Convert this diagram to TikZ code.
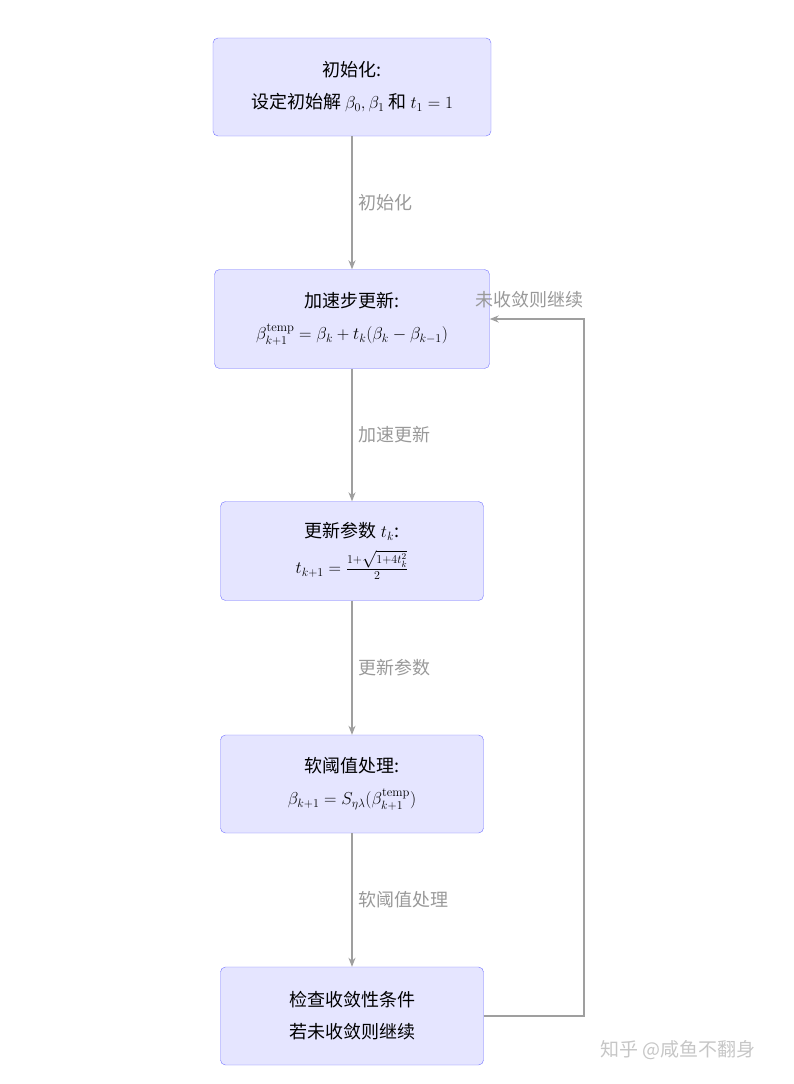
\documentclass[tikz,border=0pt]{standalone}
\usepackage{amsmath}
\usepackage{fontspec}
\newfontfamily\cjk{Noto Sans CJK SC}
\usetikzlibrary{arrows.meta}
\begin{document}
\begin{tikzpicture}[x=1pt,y=-1pt,
  box/.style={draw=blue!55,fill=blue!10,rounded corners=5pt,align=center,font=\fontsize{18}{32}\selectfont\cjk},
  conn/.style={draw=gray!75,line width=1.3pt,-{Stealth[length=9pt,width=7pt]}},
  lab/.style={text=gray!80,font=\fontsize{18}{20}\selectfont\cjk,anchor=west}]
\useasboundingbox (0,0) rectangle (793,1084);
\node[box,minimum width=278,minimum height=98] (b1) at (352,87) {初始化:\\设定初始解 $\beta_0,\beta_1$ 和 $t_1=1$};
\node[box,minimum width=275,minimum height=99] (b2) at (352,319) {加速步更新:\\$\beta_{k+1}^{\mathrm{temp}}=\beta_k+t_k(\beta_k-\beta_{k-1})$};
\node[box,minimum width=263,minimum height=99] (b3) at (352,551) {更新参数 $t_k$:\\[4pt]$t_{k+1}=\frac{1+\sqrt{1+4t_k^2}}{2}$};
\node[box,minimum width=263,minimum height=98] (b4) at (352,784) {软阈值处理:\\$\beta_{k+1}=S_{\eta\lambda}(\beta_{k+1}^{\mathrm{temp}})$};
\node[box,minimum width=263,minimum height=98] (b5) at (352,1016) {检查收敛性条件\\若未收敛则继续};
\draw[conn] (b1) -- node[lab,pos=0.5,xshift=3pt] {初始化} (b2);
\draw[conn] (b2) -- node[lab,pos=0.5,xshift=3pt] {加速更新} (b3);
\draw[conn] (b3) -- node[lab,pos=0.5,xshift=3pt] {更新参数} (b4);
\draw[conn] (b4) -- node[lab,pos=0.5,xshift=3pt] {软阈值处理} (b5);
\coordinate (c1) at (584,1016);
\coordinate (c2) at (584,319);
\draw[conn] (b5.east) -- (c1) -- (c2) -- (b2.east);
\node[lab] (l5) at (472,300) {未收敛则继续};
\node[text=gray!45,font=\fontsize{19}{20}\selectfont\cjk] (wm) at (678,1050) {知乎 @咸鱼不翻身};
\end{tikzpicture}
\end{document}
